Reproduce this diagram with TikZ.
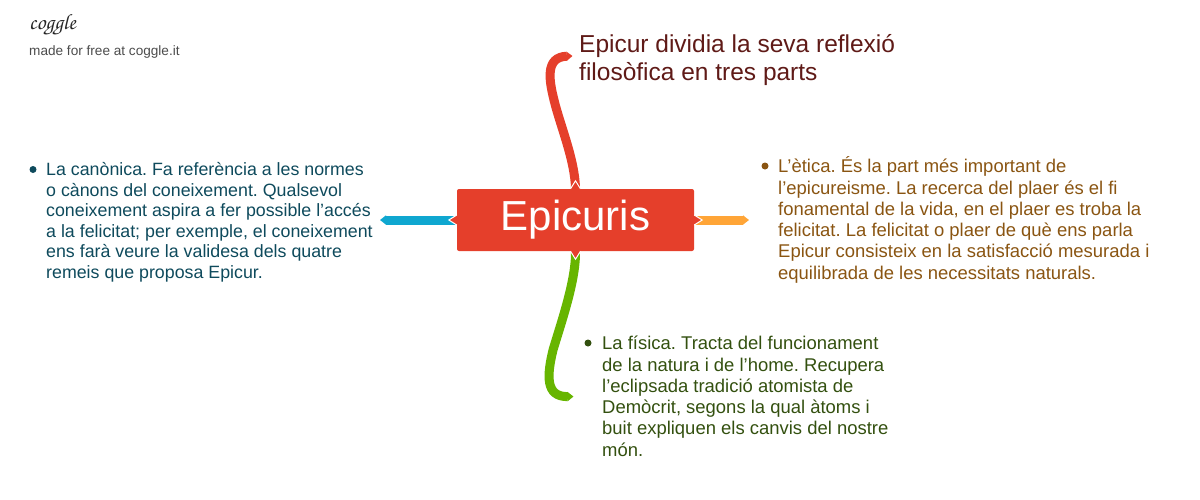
\documentclass[tikz,border=0pt]{standalone}
\usepackage{fontspec}
\setmainfont{Liberation Sans}
\usepackage{xcolor}
\usepackage{tikz}
\usetikzlibrary{calc, arrows.meta}
\definecolor{epired}{HTML}{E53F2B}
\definecolor{epiblue}{HTML}{0FA7D0}
\definecolor{epiorange}{HTML}{FFA537}
\definecolor{epigreen}{HTML}{67B500}
\definecolor{txtred}{HTML}{5F1A17}
\definecolor{txtblue}{HTML}{0E4A5C}
\definecolor{txtorange}{HTML}{8A5512}
\definecolor{txtgreen}{HTML}{33500F}
\tikzset{
bodytext/.style={anchor=north west, inner sep=0pt, align=left, font=\fontsize{18.45}{21.3}\selectfont},
branch/.style={line width=9pt, -{Triangle[length=6pt,width=9pt]}},
}
\frenchspacing
\begin{document}
\begin{tikzpicture}[x=1pt,y=-1pt]
\useasboundingbox (0,0) rectangle (1200,499);
\node[fill=epired, rounded corners=2pt, minimum width=237pt, minimum height=62pt, inner sep=0pt, text=white, font=\fontsize{42}{50}\selectfont] (epicuris) at (575.5,220) {Epicuris};
\node[bodytext, text=txtred, font=\fontsize{24.5}{27.5}\selectfont] (parts) at (579,34.5) {Epicur dividia la seva reflexió\\filosòfica en tres parts};
\node[bodytext, text=txtblue, font=\fontsize{17.8}{20.5}\selectfont] (canonica) at (46,162.5) {La canònica. Fa referència a les normes\\o cànons del coneixement. Qualsevol\\coneixement aspira a fer possible l’accés\\a la felicitat; per exemple, el coneixement\\ens farà veure la validesa dels quatre\\remeis que proposa Epicur.};
\node[bodytext, text=txtorange] (etica) at (778,156.5) {L’ètica. És la part més important de\\l’epicureisme. La recerca del plaer és el fi\\fonamental de la vida, en el plaer es troba la\\felicitat. La felicitat o plaer de què ens parla\\Epicur consisteix en la satisfacció mesurada i\\equilibrada de les necessitats naturals.};
\node[bodytext, text=txtgreen] (fisica) at (602,336) {La física. Tracta del funcionament\\de la natura i de l’home. Recupera\\l’eclipsada tradició atomista de\\Demòcrit, segons la qual àtoms i\\buit expliquen els canvis del nostre\\món.};
\node[anchor=north west, inner sep=0pt, text=black!85, font=\fontsize{22}{26}\usefont{OT1}{pzc}{mb}{it}] (logo) at (29,14) {coggle};
\node[anchor=north west, inner sep=0pt, text=black!70, font=\fontsize{13.6}{16}\selectfont] (made) at (29,45) {made for free at coggle.it};
\foreach \x/\y/\col in {33/169.5/txtblue, 765/166/txtorange, 588/343/txtgreen}{
\fill[\col] (\x,\y) circle(3.5pt);
}
\coordinate (redend) at (572.5,56);
\coordinate (greenend) at (573.5,396.5);
\coordinate (blueend) at (380,220);
\coordinate (orangeend) at (749,220);
\draw[branch, epired] (epicuris.north) .. controls (575,160) and (560,125) .. (554,100) .. controls (549,80) and (545,57) .. (redend);
\draw[branch, epigreen] (epicuris.south) .. controls (576,280) and (562,320) .. (553,350) .. controls (547,375) and (545,397) .. (greenend);
\draw[branch, epiblue] (epicuris.west) -- (blueend);
\draw[branch, epiorange] (epicuris.east) -- (orangeend);
\foreach \side/\ax/\ay/\bx/\by in {north/5/0/0/-8, south/5/0/0/8, west/0/5/-8/0, east/0/5/8/0}{
\path[fill=epired, draw=white, line width=1pt] ($(epicuris.\side)+(\ax,\ay)$) -- ($(epicuris.\side)+(\bx,\by)$) -- ($(epicuris.\side)-(\ax,\ay)$);
}
\end{tikzpicture}
\end{document}
